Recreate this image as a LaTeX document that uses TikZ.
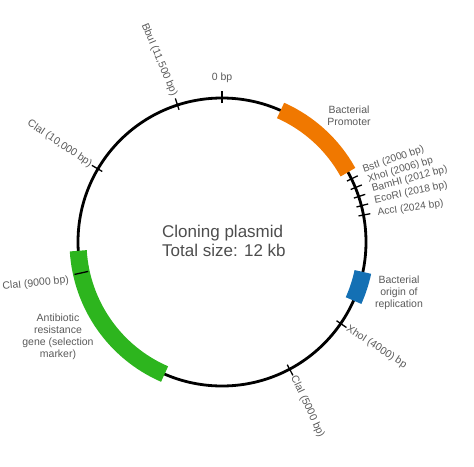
\documentclass[tikz,border=0pt]{standalone}
\usepackage{fontspec}
\setmainfont{Liberation Sans}
\usetikzlibrary{calc}
\definecolor{lbl}{HTML}{5A5A5A}
\definecolor{ctr}{HTML}{4D4D4D}
\definecolor{orng}{HTML}{F07800}
\definecolor{grn}{HTML}{2DB51E}
\definecolor{blu}{HTML}{1470B4}
\tikzset{
  lab/.style={text=lbl, font=\fontsize{10.5}{12}\selectfont, inner sep=0pt},
  fanlab/.style={lab, font=\fontsize{10.2}{12}\selectfont, anchor=west},
  tickmark/.style={line width=1.3pt, black},
  band/.style={line width=17pt},
}
\begin{document}
\begin{tikzpicture}[x=1pt,y=1pt]
\useasboundingbox (0,0) rectangle (474,-466);
\coordinate (c) at (222,-242);
\def\R{144}
% backbone
\draw[line width=2.8pt] (c) circle[radius=\R];
% feature bands
\draw[band, orng] ($(c)+(66:\R)$) arc[start angle=66, end angle=29, radius=\R];
\draw[band, blu] ($(c)+(-12:\R)$) arc[start angle=-12, end angle=-24, radius=\R];
\draw[band, grn] ($(c)+(183.5:\R)$) arc[start angle=183.5, end angle=246.5, radius=\R];
% ticks
\foreach \a in {90,108,149.5,-62,-34.5,26,22.2,18.4,14.6,10.8}{
  \draw[tickmark] ($(c)+(\a:\R-5)$) -- ($(c)+(\a:\R+7)$);
}
\draw[tickmark] ($(c)+(192.4:\R-7)$) -- ($(c)+(192.4:\R+7)$);
% labels
\node[lab] (l0) at (222,-78) {0 bp};
\node[lab, anchor=east, rotate=-67] (lbbu) at ($(c)+(108:\R+10)$) {BbuI (11,500 bp)};
\node[lab, anchor=east, rotate=-34] (lcla10) at ($(c)+(149.5:\R+8)$) {ClaI (10,000 bp)};
\node[lab, anchor=east, rotate=6] (lcla9) at (69,-280) {ClaI (9000 bp)};
\node[lab, anchor=west, rotate=-65] (lcla5) at ($(c)+(-62:\R+8)$) {ClaI (5000 bp)};
\node[lab, anchor=west, rotate=-33] (lxho4) at ($(c)+(-34.5:\R+8)$) {XhoI (4000) bp};
\node[fanlab, rotate=19] (lbst) at (363,-170) {BstI (2000 bp)};
\node[fanlab, rotate=17] (lxho2) at (368,-180) {XhoI (2006) bp};
\node[fanlab, rotate=15] (lbam) at (372,-189.5) {BamHI (2012 bp)};
\node[fanlab, rotate=12] (leco) at (374.5,-200.5) {EcoRI (2018 bp)};
\node[fanlab, rotate=8] (lacc) at (377.5,-213) {AccI (2024 bp)};
\node[lab, align=center] (lprom) at (349,-116) {Bacterial\\Promoter};
\node[lab, align=center] (lori) at (399,-293) {Bacterial\\origin of\\replication};
\node[lab, align=center] (lres) at (58,-337) {Antibiotic\\resistance\\gene (selection\\marker)};
\node[text=ctr, font=\fontsize{17}{19}\selectfont, inner sep=0pt, align=left, anchor=west] (title) at (162,-240.5) {Cloning plasmid\\Total size: 12 kb};
\end{tikzpicture}
\end{document}
